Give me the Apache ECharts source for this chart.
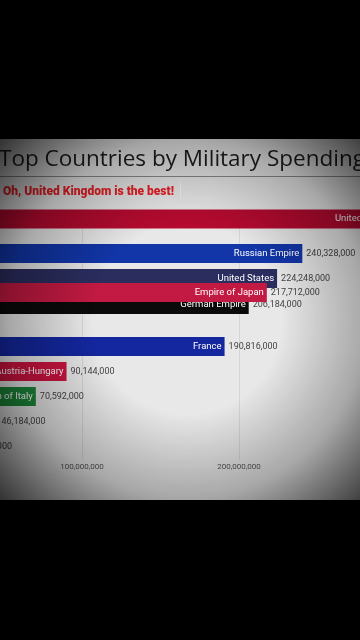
<!DOCTYPE html>
<html><head><meta charset="utf-8">
<script src="https://cdn.jsdelivr.net/npm/echarts@6/dist/echarts.min.js"></script>
<style>
html,body{margin:0;padding:0;background:#000;width:360px;height:640px;overflow:hidden}
#bg{position:absolute;left:0;top:139px;width:360px;height:361px;background:#e8e8e8}
#chart{position:absolute;left:0;top:0;width:360px;height:640px}
#vig{position:absolute;left:0;top:139px;width:360px;height:361px;pointer-events:none;
background:radial-gradient(ellipse 75% 75% at 52% 50%, rgba(0,0,0,0) 35%, rgba(0,0,0,0.28) 66%, rgba(0,0,0,0.85) 100%)}
</style></head>
<body><div id="bg"></div><div id="chart"></div><div id="vig"></div>
<script>
// ---- data ----
const countries = ['United Kingdom','Russian Empire','German Empire','United States','Empire of Japan','France','Austria-Hungary','Kingdom of Italy','Ottoman Empire','Spain'];
const spending  = [306000000,240328000,206184000,224248000,217712000,190816000,90144000,70592000,46184000,24848000];
// rank position of each bar in this frame of the race (fractional = moving)
const rankPos   = [-0.1,1.28,3.32,2.28,2.84,5,6,7,8,9];
const xTicks    = [0,100000000,200000000,300000000,400000000];
const titleText = 'Top Countries by Military Spending';
const subText   = 'Oh, United Kingdom is the best!';

// ---- styles ----
const barColors = ['#b50b30','#1236a8','#0a0a0a','#2b2d5e','#c21a42','#14279e','#cc1440','#1d8a3b','#7a1f2b','#c9a227'];
const FONT = 'Roboto, "Noto Sans", sans-serif';
const fmt = v => Number(v).toLocaleString('en-US');

const series = [];
countries.forEach((c, i) => {
  const item = { name: c, value: [spending[i], rankPos[i] * 1000] };
  series.push({
    type: 'bar', name: c, z: 2 + i * 2, barWidth: 19, barGap: '-100%',
    silent: true, animation: false,
    data: [item],
    itemStyle: { color: barColors[i] },
    label: { show: true, position: 'insideRight', distance: 3, formatter: c,
             color: '#ffffff', fontSize: 9.5, fontFamily: FONT }
  });
  series.push({
    type: 'bar', name: c + ' value', z: 3 + i * 2, barWidth: 19, barGap: '-100%',
    silent: true, animation: false,
    data: [item],
    itemStyle: { color: 'rgba(0,0,0,0)' },
    label: { show: true, position: 'right', distance: 4, formatter: fmt(spending[i]),
             color: '#444', fontSize: 9, fontFamily: FONT }
  });
});

const chart = echarts.init(document.getElementById('chart'), null, { renderer: 'canvas' });
chart.setOption({
  backgroundColor: 'transparent',
  animation: false,
  grid: { left: -75, top: 209, width: 628, height: 250, containLabel: false, outerBoundsMode: 'none' },
  xAxis: {
    type: 'value', min: xTicks[0], max: xTicks[xTicks.length - 1], interval: xTicks[1] - xTicks[0],
    position: 'bottom',
    axisLine: { show: false }, axisTick: { show: false },
    axisLabel: { color: '#555', fontSize: 8, fontFamily: FONT, margin: 4, formatter: v => fmt(v) },
    splitLine: { show: true, lineStyle: { color: 'rgba(0,0,0,0.08)', width: 1 } }
  },
  // ECharts pads a bar base axis by half a bar at each end; these limits
  // end up as -500 .. 9500 (rank -0.5 .. 9.5) after that padding.
  yAxis: { type: 'time', inverse: true, min: -120, max: 9120, show: false },
  graphic: [
    { type: 'text', x: -1, y: 160, z: 50,
      style: { text: titleText, fill: '#1e1e1e', font: '500 22.5px "Open Sans", Roboto, sans-serif', verticalAlign: 'middle' } },
    { type: 'line', z: 50, shape: { x1: 0, y1: 176.5, x2: 360, y2: 176.5 },
      style: { stroke: '#8a8a8a', lineWidth: 1 } },
    { type: 'text', x: 3, y: 192, z: 50,
      style: { text: subText, fill: '#ea2228', font: '900 12px ' + FONT, verticalAlign: 'middle' } },
    { type: 'line', z: 50, shape: { x1: 180.5, y1: 181, x2: 180.5, y2: 198 },
      style: { stroke: '#f4f4f4', lineWidth: 1 } }
  ],
  series: series
});
</script>
</body></html>
